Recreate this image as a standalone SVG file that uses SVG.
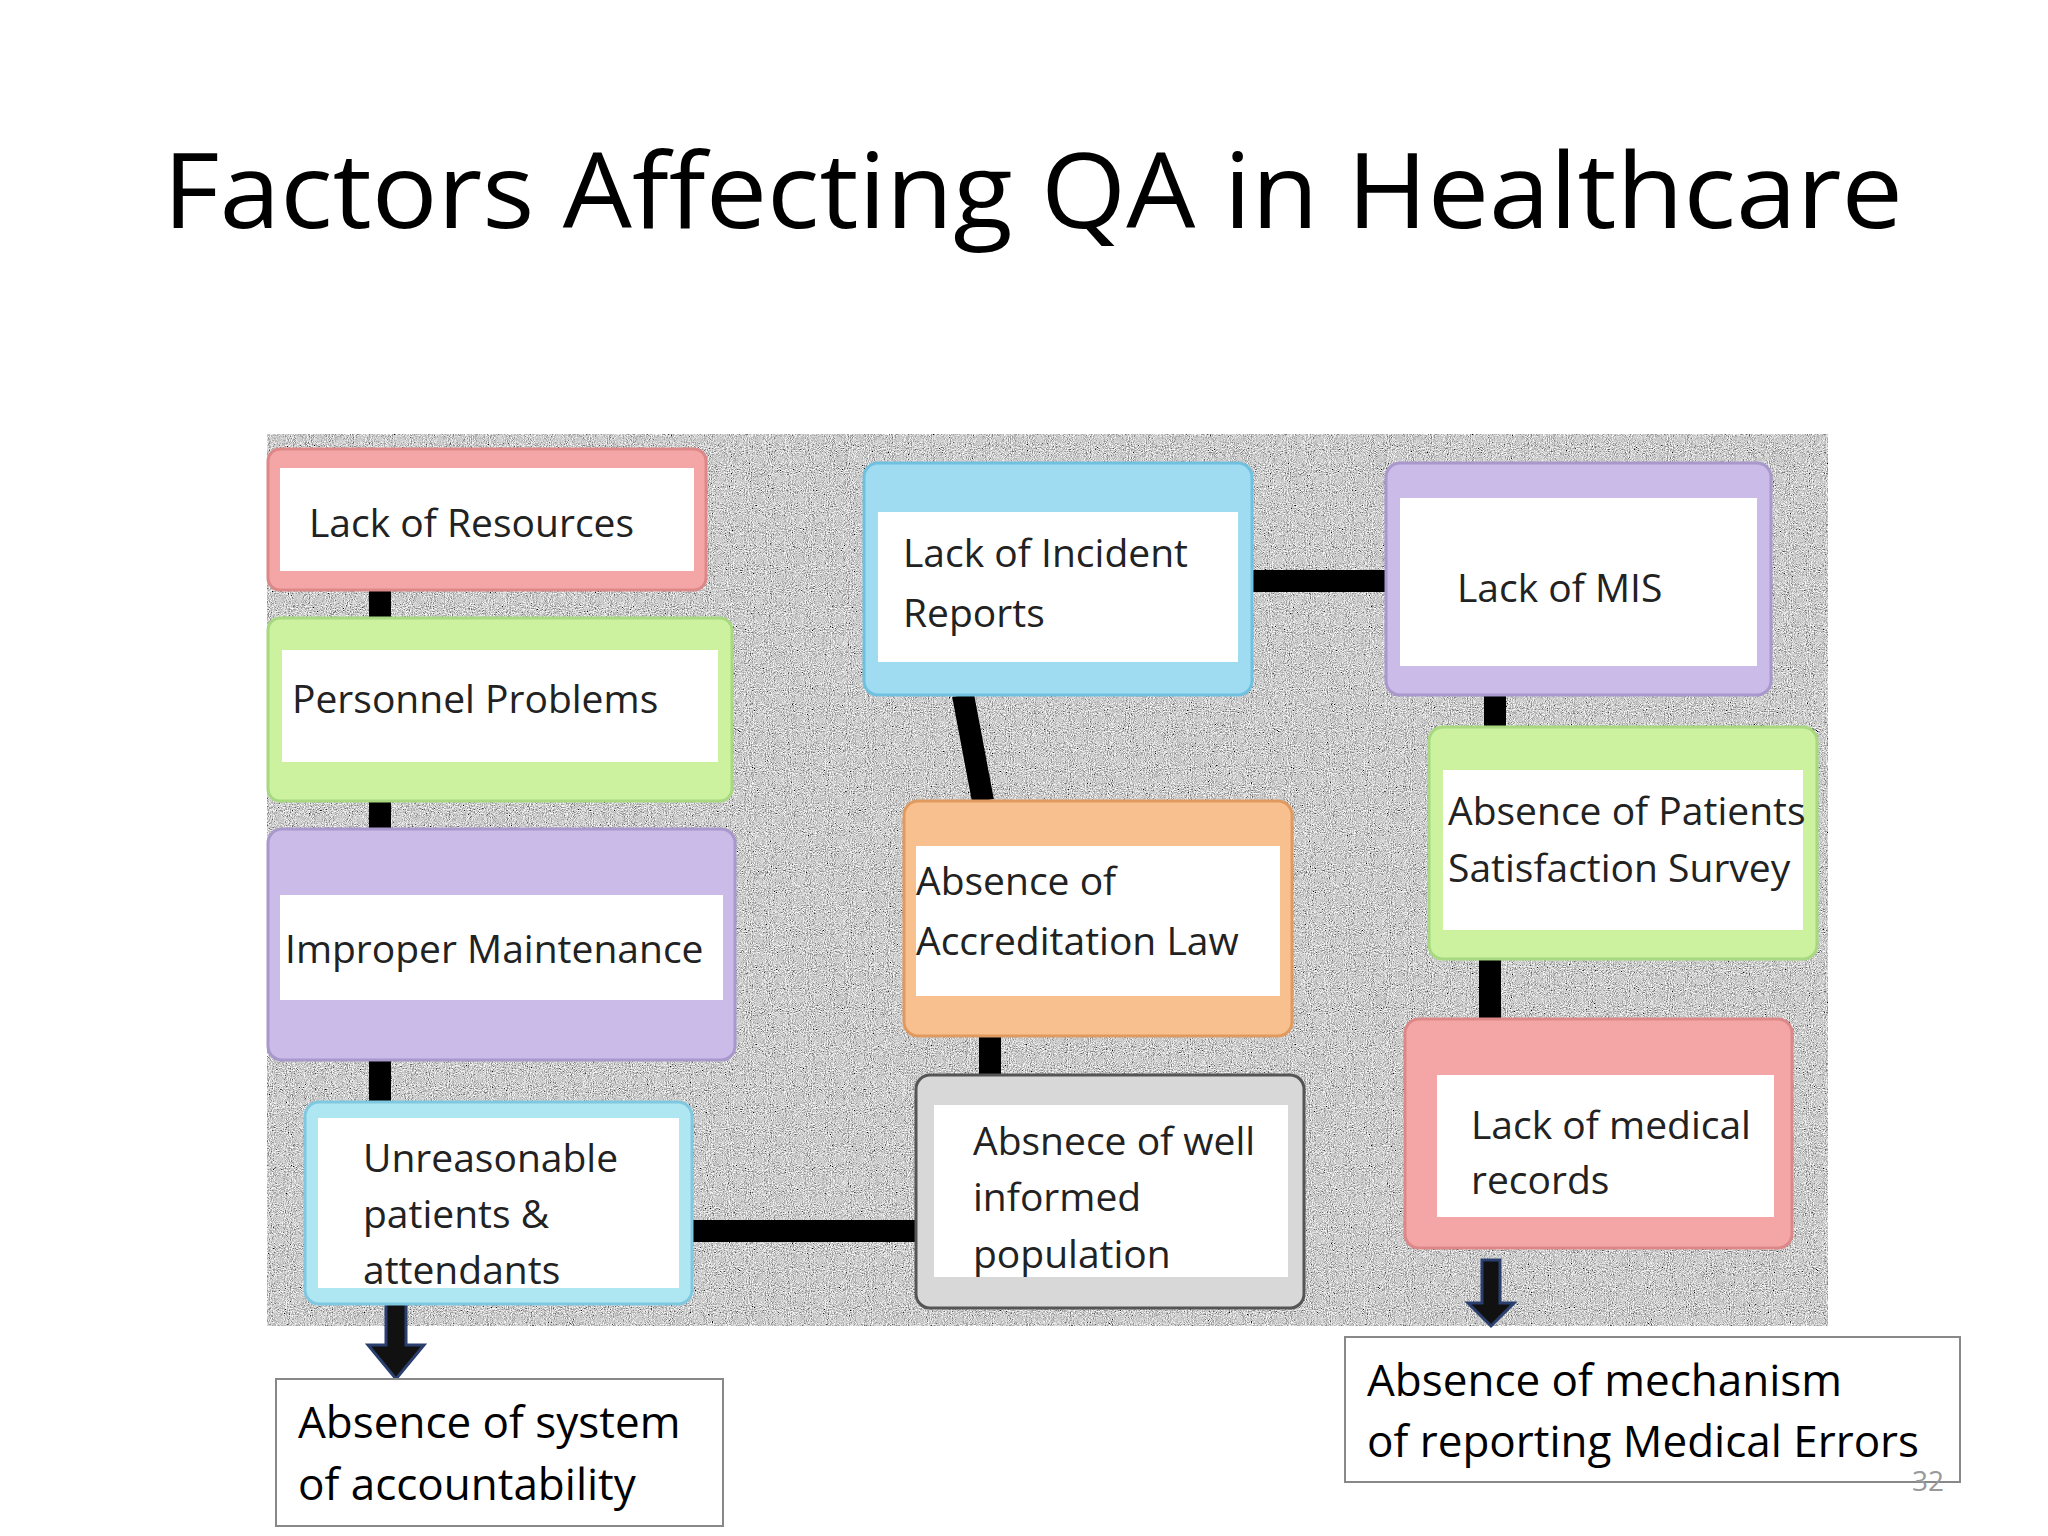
<svg xmlns="http://www.w3.org/2000/svg" width="2048" height="1536" viewBox="0 0 2048 1536">
<defs>
<filter id="noise" x="0" y="0" width="100%" height="100%">
<feTurbulence type="fractalNoise" baseFrequency="0.95" numOctaves="2" seed="3" result="t"/>
<feColorMatrix type="matrix" values="0.9 0.9 0.9 0 -0.75  0.9 0.9 0.9 0 -0.75  0.9 0.9 0.9 0 -0.75  0 0 0 0 1"/>
</filter>
</defs>
<style>
.t{font-family:"Open Sans","DejaVu Sans",sans-serif;font-size:39px;fill:#222}
.b{font-family:"Open Sans","Liberation Sans",sans-serif;font-size:44px;fill:#000}
.in{fill:#fff}
.c{stroke:#000;stroke-width:22;fill:none}
</style>
<rect width="2048" height="1536" fill="#fff"/>
<text x="1033" y="228" text-anchor="middle" font-family="'Open Sans','Liberation Sans',sans-serif" font-size="104" fill="#000" textLength="1740" lengthAdjust="spacingAndGlyphs">Factors Affecting QA in Healthcare</text>
<rect x="267" y="434" width="1561" height="892" fill="#a8a8a8"/>
<rect x="267" y="434" width="1561" height="892" filter="url(#noise)"/>
<g id="connectors">
<line class="c" x1="380" y1="590" x2="380" y2="1102"/>
<line class="c" x1="692" y1="1231" x2="916" y2="1231"/>
<line class="c" x1="963" y1="695" x2="983" y2="801"/>
<line class="c" x1="990" y1="1036" x2="990" y2="1075"/>
<line class="c" x1="1252" y1="581" x2="1386" y2="581"/>
<line class="c" x1="1495" y1="695" x2="1495" y2="727"/>
<line class="c" x1="1490" y1="959" x2="1490" y2="1019"/>
<path d="M386 1293 H406 V1345 H424 L396 1379 L368 1345 H386 Z" fill="#111" stroke="#2a3f6e" stroke-width="3"/>
<path d="M1482 1260 H1500 V1303 H1514 L1491 1326 L1468 1303 H1482 Z" fill="#111" stroke="#2a3f6e" stroke-width="3"/>
</g>
<g id="n1"><rect x="268" y="449" width="438" height="141" rx="12" fill="#f4a6a6" stroke="#d88" stroke-width="3"/><rect class="in" x="280" y="468" width="414" height="103"/><text class="t" x="309" y="537">Lack of Resources</text></g>
<g id="n2"><rect x="268" y="618" width="464" height="183" rx="12" fill="#ccf2a0" stroke="#a8d880" stroke-width="3"/><rect class="in" x="282" y="650" width="436" height="112"/><text class="t" x="292" y="713">Personnel Problems</text></g>
<g id="n3"><rect x="268" y="829" width="467" height="231" rx="14" fill="#cbbbe8" stroke="#a898cc" stroke-width="3"/><rect class="in" x="280" y="895" width="443" height="105"/><text class="t" x="285" y="963">Improper Maintenance</text></g>
<g id="n4"><rect x="305" y="1102" width="387" height="202" rx="14" fill="#aee6f2" stroke="#80c8e0" stroke-width="3"/><rect class="in" x="318" y="1118" width="361" height="170"/><text class="t" x="363" y="1172">Unreasonable</text><text class="t" x="363" y="1228">patients &amp;</text><text class="t" x="363" y="1284">attendants</text></g>
<g id="n5"><rect x="864" y="463" width="388" height="232" rx="14" fill="#9fdcf2" stroke="#70c0e0" stroke-width="3"/><rect class="in" x="878" y="512" width="360" height="150"/><text class="t" x="903" y="567">Lack of Incident</text><text class="t" x="903" y="627">Reports</text></g>
<g id="n6"><rect x="904" y="801" width="388" height="235" rx="14" fill="#f8c08e" stroke="#e09a60" stroke-width="3"/><rect class="in" x="916" y="846" width="364" height="150"/><text class="t" x="916" y="895">Absence of</text><text class="t" x="916" y="955">Accreditation Law</text></g>
<g id="n7"><rect x="916" y="1075" width="388" height="233" rx="14" fill="#d8d8d8" stroke="#555" stroke-width="3"/><rect class="in" x="934" y="1105" width="354" height="172"/><text class="t" x="973" y="1155">Absnece of well</text><text class="t" x="973" y="1211">informed</text><text class="t" x="973" y="1268">population</text></g>
<g id="n8"><rect x="1386" y="463" width="385" height="232" rx="14" fill="#cbbbe8" stroke="#a898cc" stroke-width="3"/><rect class="in" x="1400" y="498" width="357" height="168"/><text class="t" x="1457" y="602">Lack of MIS</text></g>
<g id="n9"><rect x="1429" y="727" width="388" height="232" rx="14" fill="#ccf2a0" stroke="#a8d880" stroke-width="3"/><rect class="in" x="1443" y="770" width="360" height="160"/><text class="t" x="1448" y="825">Absence of Patients</text><text class="t" x="1448" y="882">Satisfaction Survey</text></g>
<g id="n10"><rect x="1405" y="1019" width="387" height="229" rx="14" fill="#f4a6a6" stroke="#d88" stroke-width="3"/><rect class="in" x="1437" y="1075" width="337" height="142"/><text class="t" x="1471" y="1139">Lack of medical</text><text class="t" x="1471" y="1194">records</text></g>
<g id="b1"><rect x="276" y="1379" width="447" height="147" fill="#fff" stroke="#888" stroke-width="2"/><text class="b" x="298" y="1438">Absence of system</text><text class="b" x="298" y="1500">of accountability</text></g>
<g id="b2"><rect x="1345" y="1337" width="615" height="145" fill="#fff" stroke="#888" stroke-width="2"/><text class="b" x="1367" y="1396">Absence of mechanism</text><text class="b" x="1367" y="1457">of reporting Medical Errors</text></g>
<text x="1912" y="1491" font-family="'Open Sans','Liberation Sans',sans-serif" font-size="28" fill="#999">32</text>
</svg>
